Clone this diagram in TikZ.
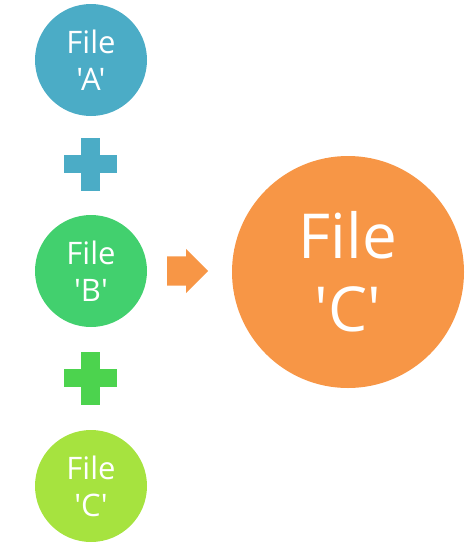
\documentclass[tikz,border=0pt]{standalone}
\usepackage{fontspec}
\setmainfont{Open Sans}[Ligatures=TeXOff]
\usetikzlibrary{shapes.arrows}
\definecolor{cA}{HTML}{4BACC6}
\definecolor{cB}{HTML}{42D06E}
\definecolor{cC}{HTML}{A6E33F}
\definecolor{cO}{HTML}{F79646}
\definecolor{pB}{HTML}{4CD34E}
\tikzset{
  filecircle/.style={circle, minimum size=112pt, inner sep=0pt, text=white, align=center,
    font=\fontsize{31}{37}\selectfont},
  bigcircle/.style={circle, minimum size=232pt, inner sep=0pt, text=white, align=center,
    font=\fontsize{62}{73}\selectfont},
  plusbar/.style={inner sep=0pt}
}
\begin{document}
\begin{tikzpicture}[x=1pt,y=-1pt]
\useasboundingbox (0,0) rectangle (474,557);
\node[filecircle, fill=cA] (fa) at (91,60) {File\\'A'};
\node[filecircle, fill=cB] (fb) at (91,271) {File\\'B'};
\node[filecircle, fill=cC] (fc) at (91,486) {File\\'C'};
\node[bigcircle, fill=cO] (big) at (348,272) {File\\'C'};
% plus signs
\node[plusbar, minimum width=53pt, minimum height=18pt, fill=cA] (p1h) at (90,164) {};
\node[plusbar, minimum width=19pt, minimum height=53pt, fill=cA] (p1v) at (90,164) {};
\node[plusbar, minimum width=53pt, minimum height=18pt, fill=pB] (p2h) at (90,378) {};
\node[plusbar, minimum width=19pt, minimum height=53pt, fill=pB] (p2v) at (90,378) {};
% arrow
\node[single arrow, fill=cO, inner sep=0pt, minimum height=41pt, minimum width=44pt,
  single arrow head extend=7.5pt, single arrow tip angle=90, anchor=tail] (arr) at (167,271) {\rule{0pt}{29pt}};
\end{tikzpicture}
\end{document}
